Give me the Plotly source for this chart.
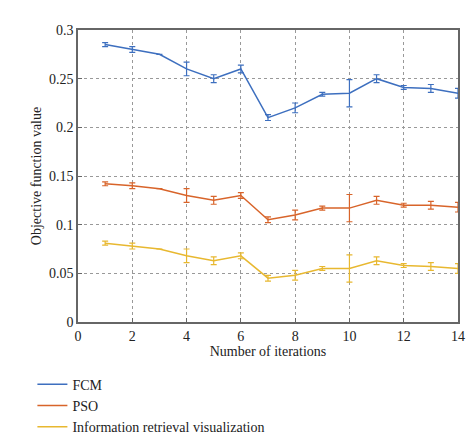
import plotly.graph_objects as go

iterations = list(range(1, 15))
fcm = [0.285, 0.280, 0.275, 0.260, 0.250, 0.260, 0.210, 0.220, 0.234, 0.235, 0.250, 0.241, 0.240, 0.235]
fcm_err = [0.002, 0.003, 0.0, 0.007, 0.004, 0.004, 0.003, 0.005, 0.002, 0.014, 0.004, 0.002, 0.004, 0.005]
pso = [0.142, 0.140, 0.137, 0.130, 0.125, 0.130, 0.105, 0.110, 0.117, 0.117, 0.125, 0.120, 0.120, 0.118]
pso_err = [0.002, 0.003, 0.0, 0.007, 0.004, 0.003, 0.003, 0.005, 0.002, 0.014, 0.004, 0.002, 0.004, 0.005]
irv = [0.081, 0.078, 0.075, 0.068, 0.063, 0.068, 0.045, 0.048, 0.055, 0.055, 0.063, 0.058, 0.057, 0.055]
irv_err = [0.002, 0.003, 0.0, 0.007, 0.004, 0.003, 0.003, 0.005, 0.002, 0.014, 0.004, 0.002, 0.004, 0.005]

series = [
    ("FCM", fcm, fcm_err, "#3d6fbf"),
    ("PSO", pso, pso_err, "#d8642a"),
    ("Information retrieval visualization", irv, irv_err, "#e8b830"),
]

fig = go.Figure()
for name, vals, err, col in series:
    fig.add_trace(go.Scatter(
        x=iterations, y=vals, name=name, mode="lines",
        line=dict(color=col, width=1.5),
        error_y=dict(type="data", array=err, color=col, thickness=1.2, width=3),
    ))

axis = dict(showline=True, linecolor="#666", mirror=True, linewidth=1.5,
            ticks="inside", ticklen=4, tickcolor="#666",
            showgrid=True, gridcolor="#999", griddash="dot", gridwidth=1,
            zeroline=False, tickfont=dict(size=14, color="#222"))

fig.update_xaxes(axis, range=[0, 14], dtick=2, title=dict(text="Number of iterations", font=dict(size=14), standoff=4))
fig.update_yaxes(axis, range=[0, 0.3], dtick=0.05, tickformat="~g",
                 title=dict(text="Objective function value", font=dict(size=14), standoff=4))

fig.update_layout(
    width=474, height=447,
    margin=dict(l=70, r=24, t=22, b=125),
    plot_bgcolor="white", paper_bgcolor="white",
    font=dict(family="Liberation Serif", color="#222"),
    legend=dict(x=-0.12, y=-0.16, xanchor="left", yanchor="top",
                font=dict(size=14), tracegroupgap=0, itemwidth=30),
)

fig.write_html("out.html")
